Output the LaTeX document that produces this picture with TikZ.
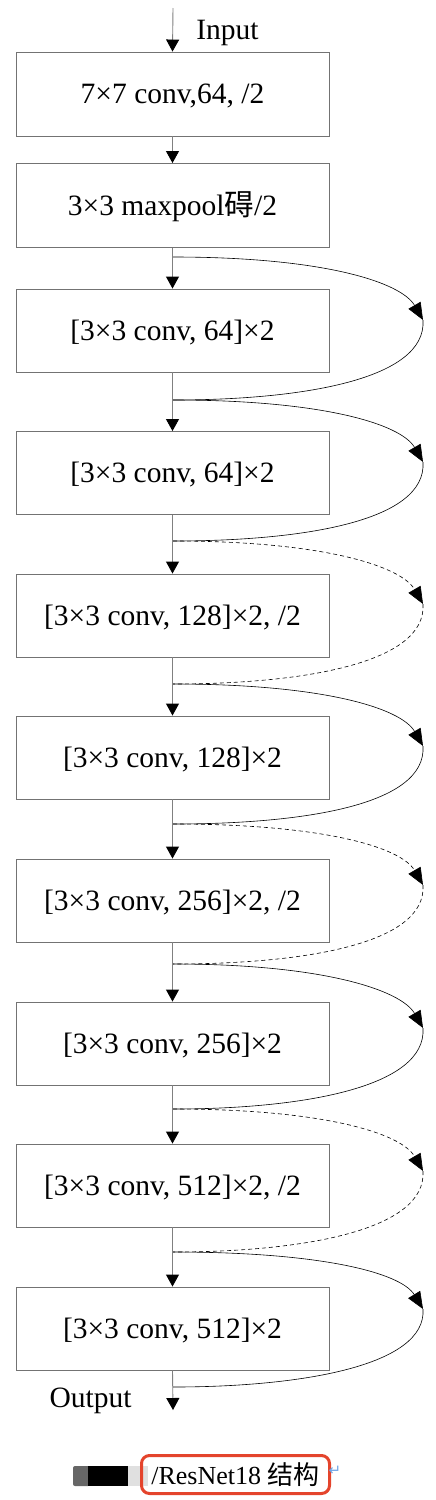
\documentclass[tikz,border=0pt]{standalone}
\usepackage{fontspec}
\setmainfont{Liberation Serif}
\newfontfamily\cjk{Noto Sans CJK SC}
\newfontfamily\dejavu{DejaVu Sans}
\usetikzlibrary{arrows.meta}
\definecolor{capred}{RGB}{228,68,44}
\definecolor{retblue}{RGB}{110,165,230}

\begin{document}
\begin{tikzpicture}[x=1pt, y=-1pt]
        \tikzstyle{every node}=[inner sep=0pt, font=\fontsize{29.5}{34}\selectfont]
        \tikzstyle{layer}=[draw=black!55, line width=0.9pt, minimum width=313pt, minimum height=83pt, text height=19.5pt, text depth=0pt]
        \tikzstyle{flow}=[draw=black!50, line width=0.9pt, -{Triangle[length=12pt, width=13pt, color=black]}]
        \tikzstyle{skip}=[black, line width=0.6pt]
        \tikzstyle{down}=[-{Triangle[length=17pt, width=14pt]}]
        \tikzstyle{half}=[dash pattern=on 4pt off 3pt]
        \useasboundingbox (0,0) rectangle (436,1500);
        % layers
        \node [layer, minimum height=84pt] (b1) at (172.5,94) {7×7 conv,64, /2};
        \node [layer, minimum height=84pt] (b2) at (172.5,205.5) {3×3 maxpool{\cjk 碍}/2};
        \node [layer] (b3) at (172.5,330.5) {[3×3 conv, 64]×2};
        \node [layer] (b4) at (172.5,473) {[3×3 conv, 64]×2};
        \node [layer] (b5) at (172.5,615.5) {[3×3 conv, 128]×2, /2};
        \node [layer] (b6) at (172.5,757.5) {[3×3 conv, 128]×2};
        \node [layer] (b7) at (172.5,900.5) {[3×3 conv, 256]×2, /2};
        \node [layer] (b8) at (172.5,1043.5) {[3×3 conv, 256]×2};
        \node [layer] (b9) at (172.5,1185.5) {[3×3 conv, 512]×2, /2};
        \node [layer] (b10) at (172.5,1328.5) {[3×3 conv, 512]×2};
        \node [anchor=base] (input) at (227.5,39) {Input};
        \node [anchor=base] (output) at (90.5,1407) {Output};
        % ends and junctions
        \coordinate (start) at (173,8);
        \coordinate (end) at (173,1410);
        \coordinate (j1) at (173,257);  \coordinate (m1) at (423,320);
        \coordinate (j2) at (173,400);  \coordinate (m2) at (423,462);
        \coordinate (j3) at (173,541);  \coordinate (m3) at (423,604);
        \coordinate (j4) at (173,684);  \coordinate (m4) at (423,746);
        \coordinate (j5) at (173,824);  \coordinate (m5) at (423,885);
        \coordinate (j6) at (173,964);  \coordinate (m6) at (423,1028);
        \coordinate (j7) at (173,1109); \coordinate (m7) at (423,1171);
        \coordinate (j8) at (173,1252); \coordinate (m8) at (423,1309);
        \coordinate (j9) at (173,1387);
        % main path
        \draw [flow] (start) -- (b1.north);
        \draw [flow] (b1.south) -- (b2.north);
        \draw [flow] (b2.south) -- (b3.north);
        \draw [flow] (b3.south) -- (b4.north);
        \draw [flow] (b4.south) -- (b5.north);
        \draw [flow] (b5.south) -- (b6.north);
        \draw [flow] (b6.south) -- (b7.north);
        \draw [flow] (b7.south) -- (b8.north);
        \draw [flow] (b8.south) -- (b9.north);
        \draw [flow] (b9.south) -- (b10.north);
        \draw [flow] (b10.south) -- (end);
        % shortcuts
        \draw [skip, down] (j1) .. controls +(150,0) and +(-22,-38) .. (m1);
        \draw [skip] (m1) .. controls +(4,60) and +(127,0) .. (j2);
        \draw [skip, down] (j2) .. controls +(150,0) and +(-22,-38) .. (m2);
        \draw [skip] (m2) .. controls +(4,60) and +(127,0) .. (j3);
        \draw [skip, half, down] (j3) .. controls +(150,0) and +(-22,-38) .. (m3);
        \draw [skip, half] (m3) .. controls +(4,60) and +(127,0) .. (j4);
        \draw [skip, down] (j4) .. controls +(150,0) and +(-22,-38) .. (m4);
        \draw [skip] (m4) .. controls +(4,60) and +(127,0) .. (j5);
        \draw [skip, half, down] (j5) .. controls +(150,0) and +(-22,-38) .. (m5);
        \draw [skip, half] (m5) .. controls +(4,60) and +(127,0) .. (j6);
        \draw [skip, down] (j6) .. controls +(150,0) and +(-22,-38) .. (m6);
        \draw [skip] (m6) .. controls +(4,60) and +(127,0) .. (j7);
        \draw [skip, half, down] (j7) .. controls +(150,0) and +(-22,-38) .. (m7);
        \draw [skip, half] (m7) .. controls +(4,60) and +(127,0) .. (j8);
        \draw [skip, down] (j8) .. controls +(150,0) and +(-22,-36) .. (m8);
        \draw [skip] (m8) .. controls +(4,57) and +(127,0) .. (j9);
        % caption
        \fill [black!60, rounded corners=2pt] (73,1466) rectangle (90,1486);
        \fill [black] (88,1466) rectangle (128,1486);
        \fill [black!12] (128,1466) rectangle (148,1486);
        \node [draw=capred, line width=3pt, rounded corners=8pt, minimum width=188pt, minimum height=38pt, font=\fontsize{26}{30}\selectfont] (cap) at (235.5,1474.5) {/ResNet18 {\cjk 结构}};
        \node [font=\fontsize{15}{16}\selectfont\dejavu, text=retblue] (ret) at (335,1471) {↵};
    \end{tikzpicture}
\end{document}
